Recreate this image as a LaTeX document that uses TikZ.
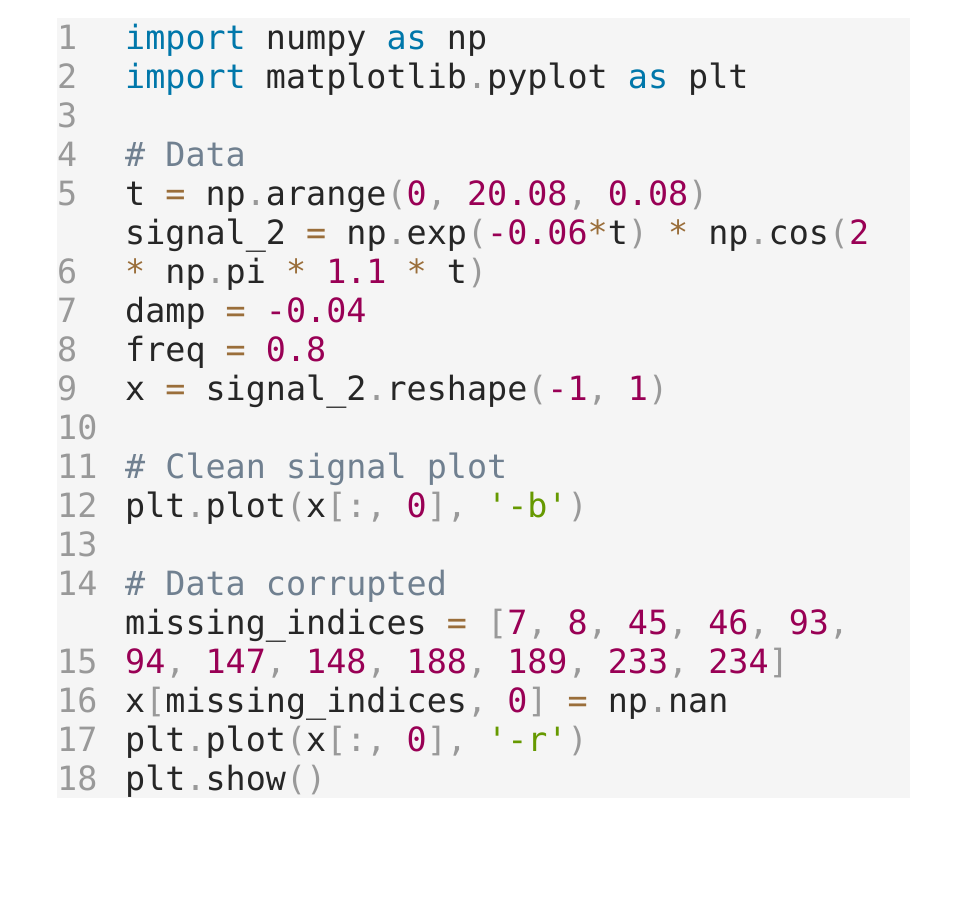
\documentclass[tikz,border=0pt]{standalone}
\usepackage{fontspec}
\setmonofont{DejaVu Sans Mono}
\definecolor{kwc}{HTML}{0077AA}
\definecolor{nmc}{HTML}{990055}
\definecolor{opc}{HTML}{9A6E3A}
\definecolor{puc}{HTML}{999999}
\definecolor{cmc}{HTML}{708090}
\definecolor{stc}{HTML}{669900}
\definecolor{bgc}{HTML}{F5F5F5}
\definecolor{lnc}{HTML}{999999}
\newcommand\kw[1]{\textcolor{kwc}{#1}}
\newcommand\nm[1]{\textcolor{nmc}{#1}}
\newcommand\op[1]{\textcolor{opc}{#1}}
\newcommand\pu[1]{\textcolor{puc}{#1}}
\newcommand\cm[1]{\textcolor{cmc}{#1}}
\newcommand\strg[1]{\textcolor{stc}{#1}}
\begin{document}
\begin{tikzpicture}[x=1pt,y=1pt,
  codeline/.style={anchor=base west,inner sep=0pt,font=\ttfamily\fontsize{33.4}{38}\selectfont,text=black!85},
  lnum/.style={codeline,text=lnc}]
\useasboundingbox (0,0) rectangle (975,-901);
\fill[bgc] (57,-18) rectangle (910,-798);
\def\rowy#1{-50-38.95*(#1-1)}
\foreach \n/\r in {1/1,2/2,3/3,4/4,5/5,6/7,7/8,8/9,9/10,10/11,11/12,12/13,13/14,14/15,15/17,16/18,17/19,18/20}
  \node[lnum] (n\n) at (57,{\rowy{\r}}) {\n};
\node[codeline] (r1) at (125,{\rowy{1}}) {\kw{import} numpy \kw{as} np};
\node[codeline] (r2) at (125,{\rowy{2}}) {\kw{import} matplotlib\pu{.}pyplot \kw{as} plt};
\node[codeline] (r4) at (125,{\rowy{4}}) {\cm{\# Data}};
\node[codeline] (r5) at (125,{\rowy{5}}) {t \op{=} np\pu{.}arange\pu{(}\nm{0}\pu{,} \nm{20.08}\pu{,} \nm{0.08}\pu{)}};
\node[codeline] (r6) at (125,{\rowy{6}}) {signal\_2 \op{=} np\pu{.}exp\pu{(}\nm{-0.06}\op{*}t\pu{)} \op{*} np\pu{.}cos\pu{(}\nm{2}};
\node[codeline] (r7) at (125,{\rowy{7}}) {\op{*} np\pu{.}pi \op{*} \nm{1.1} \op{*} t\pu{)}};
\node[codeline] (r8) at (125,{\rowy{8}}) {damp \op{=} \nm{-0.04}};
\node[codeline] (r9) at (125,{\rowy{9}}) {freq \op{=} \nm{0.8}};
\node[codeline] (r10) at (125,{\rowy{10}}) {x \op{=} signal\_2\pu{.}reshape\pu{(}\nm{-1}\pu{,} \nm{1}\pu{)}};
\node[codeline] (r12) at (125,{\rowy{12}}) {\cm{\# Clean signal plot}};
\node[codeline] (r13) at (125,{\rowy{13}}) {plt\pu{.}plot\pu{(}x\pu{[:,} \nm{0}\pu{],} \strg{'-b'}\pu{)}};
\node[codeline] (r15) at (125,{\rowy{15}}) {\cm{\# Data corrupted}};
\node[codeline] (r16) at (125,{\rowy{16}}) {missing\_indices \op{=} \pu{[}\nm{7}\pu{,} \nm{8}\pu{,} \nm{45}\pu{,} \nm{46}\pu{,} \nm{93}\pu{,}};
\node[codeline] (r17) at (125,{\rowy{17}}) {\nm{94}\pu{,} \nm{147}\pu{,} \nm{148}\pu{,} \nm{188}\pu{,} \nm{189}\pu{,} \nm{233}\pu{,} \nm{234}\pu{]}};
\node[codeline] (r18) at (125,{\rowy{18}}) {x\pu{[}missing\_indices\pu{,} \nm{0}\pu{]} \op{=} np\pu{.}nan};
\node[codeline] (r19) at (125,{\rowy{19}}) {plt\pu{.}plot\pu{(}x\pu{[:,} \nm{0}\pu{],} \strg{'-r'}\pu{)}};
\node[codeline] (r20) at (125,{\rowy{20}}) {plt\pu{.}show\pu{()}};
\end{tikzpicture}
\end{document}
